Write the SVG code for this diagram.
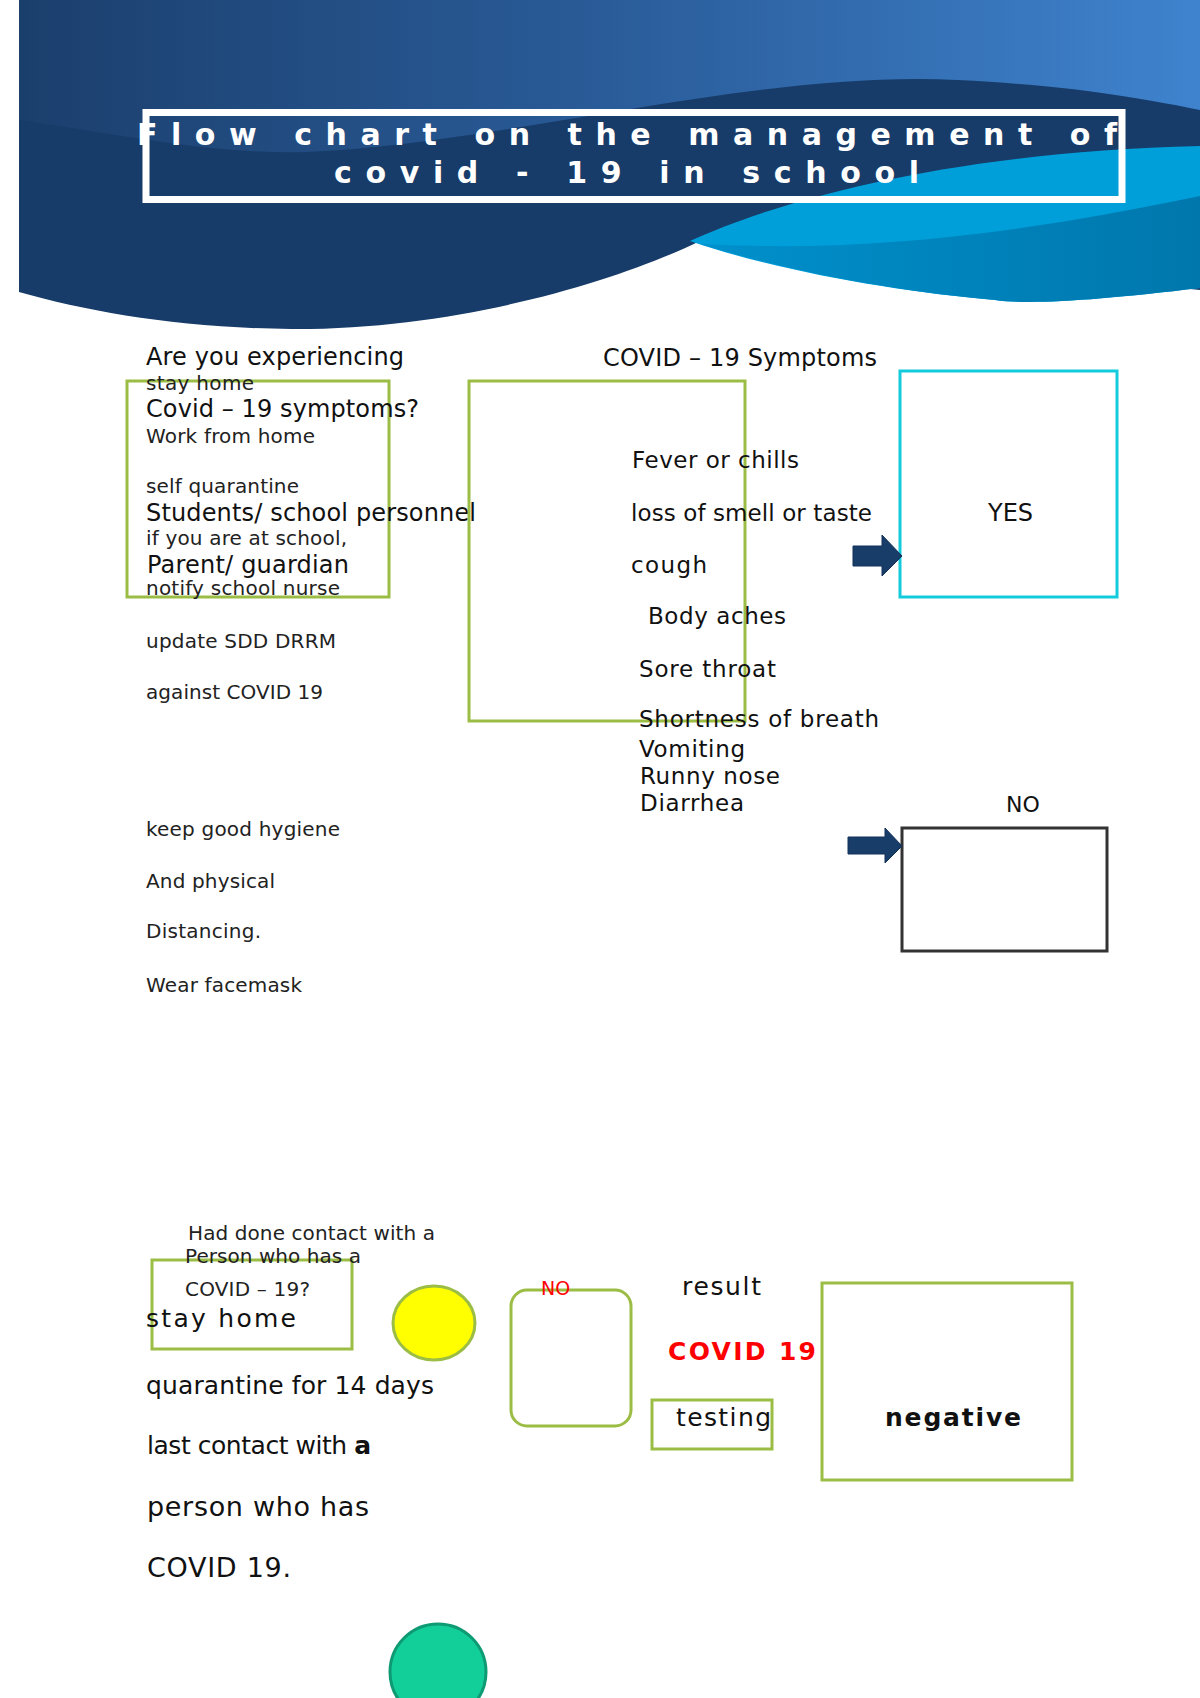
<svg xmlns="http://www.w3.org/2000/svg" width="1200" height="1698" viewBox="0 0 1200 1698">
<defs>
<linearGradient id="topGrad" x1="0" y1="0" x2="1" y2="0">
<stop offset="0" stop-color="#1B3F6D"/>
<stop offset="0.5" stop-color="#2A5C99"/>
<stop offset="1" stop-color="#3F83CE"/>
</linearGradient>
<linearGradient id="bandGrad" x1="0" y1="0" x2="1" y2="0">
<stop offset="0" stop-color="#0090CC"/>
<stop offset="1" stop-color="#0077AC"/>
</linearGradient>
</defs>
<style>
text{font-family:"DejaVu Sans","Liberation Sans",sans-serif;fill:#111;}
.title{font-weight:bold;font-size:30px;fill:#ffffff;}
.h{font-size:24px;}
.sy{font-size:23px;}
.s{font-size:20px;fill:#222;}
.m{font-size:25px;}
.l{font-size:27px;}
.b{font-weight:bold;}
.red{fill:#FF0000;}
.gbox{fill:none;stroke:#9CBD45;stroke-width:3;}
.arrow{fill:#193D69;stroke:#12305A;stroke-width:1;}
</style>
<g id="header">
<rect x="19" y="0" width="1181" height="215" fill="url(#topGrad)"/>
<path d="M19,120 C120,135 220,155 306,152 C500,145 750,70 957,80 C1080,86 1150,100 1200,110 L1200,290 L700,241 C620,280 460,330 291,329 C180,328 90,312 19,292 Z" fill="#173C69"/>
<path d="M690,241 C780,200 950,152 1200,146 L1200,288 C1100,300 1030,305 995,300 C900,292 780,272 690,241 Z" fill="#009FDA"/>
<path d="M700,244 C850,252 1000,238 1200,196 L1200,288 C1100,300 1030,305 995,300 C900,292 790,272 700,244 Z" fill="url(#bandGrad)"/>
<rect x="146" y="112.5" width="976" height="87" fill="none" stroke="#ffffff" stroke-width="7"/>
<text class="title" x="137" y="145" textLength="980" lengthAdjust="spacing">Flow chart on the management of</text>
<text class="title" x="334" y="183" textLength="585" lengthAdjust="spacing">covid - 19 in school</text>
</g>
<g id="question">
<rect class="gbox" x="127" y="381" width="262" height="216"/>
<text class="h" x="146" y="365" textLength="258" lengthAdjust="spacing">Are you experiencing</text>
<text class="s" x="146" y="390" textLength="108" lengthAdjust="spacing">stay home</text>
<text class="h" x="146" y="417" textLength="273" lengthAdjust="spacing">Covid – 19 symptoms?</text>
<text class="s" x="146" y="443" textLength="169" lengthAdjust="spacing">Work from home</text>
<text class="s" x="146" y="493" textLength="153" lengthAdjust="spacing">self quarantine</text>
<text class="h" x="146" y="521" textLength="330" lengthAdjust="spacing">Students/ school personnel</text>
<text class="s" x="146" y="545" textLength="201" lengthAdjust="spacing">if you are at school,</text>
<text class="h" x="147" y="573" textLength="202" lengthAdjust="spacing">Parent/ guardian</text>
<text class="s" x="146" y="595" textLength="194" lengthAdjust="spacing">notify school nurse</text>
<text class="s" x="146" y="648" textLength="190" lengthAdjust="spacing">update SDD DRRM</text>
<text class="s" x="146" y="699" textLength="177" lengthAdjust="spacing">against COVID 19</text>
</g>
<g id="symptoms">
<rect class="gbox" x="469" y="381" width="276" height="340"/>
<text class="h" x="603" y="366" textLength="274" lengthAdjust="spacing">COVID – 19 Symptoms</text>
<text class="sy" x="632" y="468" textLength="167" lengthAdjust="spacing">Fever or chills</text>
<text class="sy" x="631" y="521" textLength="241" lengthAdjust="spacing">loss of smell or taste</text>
<text class="sy" x="631" y="573" textLength="76" lengthAdjust="spacing">cough</text>
<text class="sy" x="648" y="624" textLength="138" lengthAdjust="spacing">Body aches</text>
<text class="sy" x="639" y="677" textLength="137" lengthAdjust="spacing">Sore throat</text>
<text class="sy" x="639" y="727" textLength="240" lengthAdjust="spacing">Shortness of breath</text>
<text class="sy" x="639" y="757" textLength="106" lengthAdjust="spacing">Vomiting</text>
<text class="sy" x="640" y="784" textLength="140" lengthAdjust="spacing">Runny nose</text>
<text class="sy" x="640" y="811" textLength="104" lengthAdjust="spacing">Diarrhea</text>
</g>
<g id="yes">
<rect x="900" y="371" width="217" height="226" fill="none" stroke="#12CCDD" stroke-width="3"/>
<text class="h" x="988" y="521">YES</text>
</g>
<g id="no">
<text x="1006" y="812" font-size="22">NO</text>
<rect x="902" y="828" width="205" height="123" fill="none" stroke="#333333" stroke-width="3"/>
</g>
<g id="prevention">
<text class="s" x="146" y="836" textLength="194" lengthAdjust="spacing">keep good hygiene</text>
<text class="s" x="146" y="888" textLength="129" lengthAdjust="spacing">And physical</text>
<text class="s" x="146" y="938" textLength="115" lengthAdjust="spacing">Distancing.</text>
<text class="s" x="146" y="992" textLength="156" lengthAdjust="spacing">Wear facemask</text>
</g>
<g id="contact">
<rect class="gbox" x="152" y="1260" width="200" height="89"/>
<text class="s" x="188" y="1240" textLength="247" lengthAdjust="spacing">Had done contact with a</text>
<text class="s" x="185" y="1263" textLength="176" lengthAdjust="spacing">Person who has a</text>
<text class="s" x="185" y="1296" textLength="125" lengthAdjust="spacing">COVID – 19?</text>
</g>
<g id="quarantine">
<text class="m" x="146" y="1327" textLength="150" lengthAdjust="spacing">stay home</text>
<text class="m" x="146" y="1394" textLength="288" lengthAdjust="spacing">quarantine for 14 days</text>
<text class="m" x="147" y="1454" textLength="224" lengthAdjust="spacing">last contact with <tspan class="b">a</tspan></text>
<text class="l" x="147" y="1516" textLength="222" lengthAdjust="spacing">person who has</text>
<text class="l" x="147" y="1577" textLength="144" lengthAdjust="spacing">COVID 19.</text>
</g>
<g id="yellow-circle">
<ellipse cx="434" cy="1323" rx="41" ry="37" fill="#FFFF00" stroke="#9CBD45" stroke-width="3"/>
</g>
<g id="no-box">
<rect class="gbox" x="511" y="1290" width="120" height="136" rx="16" ry="16"/>
<text x="541" y="1295" font-size="19" class="red">NO</text>
</g>
<g id="result">
<text class="m" x="682" y="1295" textLength="79" lengthAdjust="spacing">result</text>
<text class="m b red" x="668" y="1360" textLength="148" lengthAdjust="spacing">COVID 19</text>
</g>
<g id="testing">
<rect class="gbox" x="652" y="1400" width="120" height="49"/>
<text class="m" x="676" y="1426" textLength="95" lengthAdjust="spacing">testing</text>
</g>
<g id="negative">
<rect class="gbox" x="822" y="1283" width="250" height="197"/>
<text class="m b" x="885" y="1426" textLength="136" lengthAdjust="spacing">negative</text>
</g>
<g id="green-circle">
<circle cx="438" cy="1672" r="48" fill="#12CE99" stroke="#0E9A72" stroke-width="3"/>
</g>
<g id="connectors">
<path class="arrow" d="M853,546 H882 V535 L902,556 L882,576 V566 H853 Z"/>
<path class="arrow" d="M848,837 H885 V828 L902,846 L885,863 V854 H848 Z"/>
</g>
</svg>
